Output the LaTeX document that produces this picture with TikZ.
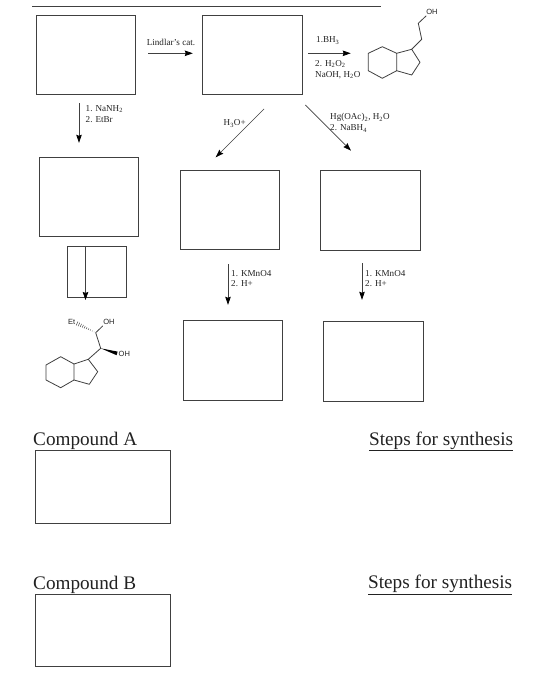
\documentclass[tikz,border=0pt]{standalone}
\usepackage{fontspec}
\setmainfont{Liberation Serif}
\newfontfamily\molfont{Liberation Sans}
\usetikzlibrary{arrows.meta,calc}
\definecolor{boxline}{HTML}{404040}
\definecolor{lbl}{HTML}{222222}
\tikzset{
  x=1pt,y=-1pt,
  cbox/.style={draw=boxline,line width=0.9pt,inner sep=0pt,minimum width=#1},
  arr/.style={draw=boxline,line width=0.7pt,-{Stealth[length=8pt,width=5.5pt,inset=1pt,black]}},
  rgt/.style={anchor=base west,inner sep=0pt,font=\fontsize{9.1}{10}\selectfont,text=lbl},
  mid/.style={anchor=base,inner sep=0pt,font=\fontsize{9.1}{10}\selectfont,text=lbl},
  big/.style={anchor=base west,inner sep=0pt,font=\fontsize{19.2}{20}\selectfont,text=lbl},
  atom/.style={inner sep=0pt,font=\molfont\fontsize{7.5}{8}\selectfont,text=lbl},
  bond/.style={draw=boxline,line width=0.8pt,line join=round,line cap=round}
}
\begin{document}
\begin{tikzpicture}
\useasboundingbox (0,0) rectangle (546,700);
\fill[white] (0,0) rectangle (546,700);
\coordinate (ruleL) at (32,6);
\coordinate (ruleR) at (381,6);
\draw[boxline,line width=0.9pt] (ruleL) -- (ruleR);
% boxes
\node[cbox=99.5pt,minimum height=79.5pt] (A) at (86,55) {};
\node[cbox=100.5pt,minimum height=79.5pt] (B) at (252.5,55) {};
\node[cbox=99.5pt,minimum height=79.5pt] (C) at (89,197) {};
\node[cbox=99.5pt,minimum height=79.5pt] (D) at (230,210) {};
\node[cbox=100.5pt,minimum height=80.5pt] (E) at (370.5,210.5) {};
\node[cbox=59.5pt,minimum height=51.5pt] (F) at (97,272) {};
\node[cbox=99.5pt,minimum height=80.5pt] (G) at (233,360.5) {};
\node[cbox=100.5pt,minimum height=80.5pt] (H) at (373.5,361.5) {};
\node[cbox=135.5pt,minimum height=73.5pt] (I) at (103,487) {};
\node[cbox=135.5pt,minimum height=72.5pt] (J) at (103,630.5) {};
% connector ends
\coordinate (mol1) at (366,53.3);
\coordinate (mol2) at (85.5,300);
% connectors
\draw[arr,shorten <=12pt,shorten >=9pt] ([yshift=1.7pt]A.east) -- ([yshift=1.7pt]B.west);
\draw[arr,shorten <=5pt,shorten >=15.3pt] ([yshift=1.7pt]B.east) -- (mol1);
\draw[arr,shorten <=8pt,shorten >=14pt] ([xshift=-7pt]A.south) -- ([xshift=-10pt]C.north);
\coordinate (b1) at (264,109);\coordinate (d1) at (215.7,157.3);
\coordinate (b2) at (305.3,105);\coordinate (e1) at (351,150.7);
\draw[arr] (b1) -- (d1);
\draw[arr] (b2) -- (e1);
\draw[arr,shorten <=14pt,shorten >=15pt] ([xshift=-2pt]D.south) -- ([xshift=-5pt]G.north);
\draw[arr,shorten <=12pt,shorten >=21pt] ([xshift=-8.5pt]E.south) -- ([xshift=-11.5pt]H.north);
\draw[arr] ([xshift=-11.5pt]F.north) -- (mol2);
% reagent labels
\node[mid] (t1) at (171,46) {Lindlar's cat.};
\node[rgt] (t2) at (316,43) {1.BH\textsubscript{3}};
\node[rgt] (t3) at (315,66.5) {2. H\textsubscript{2}O\textsubscript{2}};
\node[rgt] (t4) at (315,77.5) {NaOH, H\textsubscript{2}O};
\node[rgt] (t5) at (85.5,111.5) {1. NaNH\textsubscript{2}};
\node[rgt] (t6) at (85.5,122.5) {2. EtBr};
\node[rgt] (t7) at (223.5,126) {H\textsubscript{3}O+};
\node[rgt] (t8) at (330,120) {Hg(OAc)\textsubscript{2}, H\textsubscript{2}O};
\node[rgt] (t9) at (330,131) {2. NaBH\textsubscript{4}};
\node[rgt] (t10) at (231,276) {1. KMnO4};
\node[rgt] (t11) at (231,286) {2. H+};
\node[rgt] (t12) at (365,276) {1. KMnO4};
\node[rgt] (t13) at (365,286) {2. H+};
% headings
\node[big] (h1) at (33,445) {Compound A};
\node[big] (h2) at (369,445) {\underline{Steps for synthesis}};
\node[big] (h3) at (33,589) {Compound B};
\node[big] (h4) at (368,588.5) {\underline{Steps for synthesis}};
% molecule 1
\draw[bond] (368.3,53.3) -- (382.3,46.7) -- (396.7,53.3) -- (396.7,70.7) -- (382.3,78.3) -- (368.3,70.7) -- cycle;
\draw[bond] (396.7,53.3) -- (411.7,49.3) -- (420,62.3) -- (411.7,75) -- (396.7,70.7);
\draw[bond] (411.7,49.3) -- (421.7,39.3) -- (418.3,23.3) -- (426,16);
\node[atom] (oh1) at (432,12.3) {OH};
% molecule 2
\draw[bond] (46,365) -- (60.7,356.7) -- (74,364) -- (74,380) -- (60.7,387.7) -- (46,380) -- cycle;
\draw[bond] (74,364) -- (88.3,359.3) -- (97.7,371.7) -- (89.3,384.3) -- (74,380);
\draw[bond] (88.3,359.3) -- (100.7,348.3) -- (95.7,332.7) -- (102.7,326);
\fill[black] (100.7,348.3) -- (117.6,351.6) -- (116.6,355.2) -- cycle;
\foreach \t in {0.08,0.18,...,0.98}{
  \draw[boxline,line width=0.45pt]
    ($(95.7,332.7)!\t!(76.7,323.3)+(-0.9*\t,2.0*\t)$) -- ($(95.7,332.7)!\t!(76.7,323.3)+(0.9*\t,-2.0*\t)$);
}
\node[atom] (et) at (71.7,321.7) {Et};
\node[atom] (oh2) at (109,322) {OH};
\node[atom] (oh3) at (124.3,354) {OH};
\end{tikzpicture}
\end{document}
